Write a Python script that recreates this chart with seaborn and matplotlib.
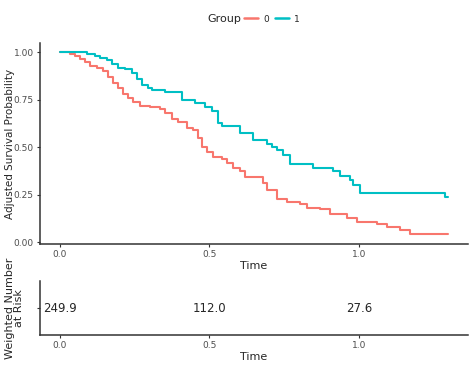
import pandas as pd
import seaborn as sns
from matplotlib import pyplot as plt

# Adjusted survival curves (step functions)
time_g0 = [0.0, 0.033, 0.050, 0.067, 0.084, 0.100, 0.124, 0.144, 0.161, 0.177,
           0.194, 0.211, 0.227, 0.244, 0.268, 0.301, 0.334, 0.351, 0.375, 0.395,
           0.425, 0.445, 0.462, 0.475, 0.492, 0.512, 0.542, 0.559, 0.579, 0.602,
           0.619, 0.679, 0.692, 0.726, 0.759, 0.803, 0.826, 0.870, 0.903, 0.960,
           0.993, 1.060, 1.094, 1.137, 1.171, 1.298]
surv_g0 = [1.0, 0.99, 0.98, 0.965, 0.95, 0.93, 0.92, 0.90, 0.87, 0.84,
           0.81, 0.78, 0.76, 0.74, 0.72, 0.71, 0.70, 0.68, 0.65, 0.635,
           0.60, 0.59, 0.55, 0.50, 0.477, 0.45, 0.44, 0.416, 0.39, 0.375,
           0.345, 0.31, 0.275, 0.23, 0.21, 0.20, 0.18, 0.175, 0.15, 0.13,
           0.105, 0.095, 0.079, 0.065, 0.042, 0.042]

time_g1 = [0.0, 0.090, 0.117, 0.134, 0.157, 0.174, 0.194, 0.217, 0.241, 0.258,
           0.274, 0.294, 0.308, 0.351, 0.408, 0.452, 0.485, 0.508, 0.528, 0.542,
           0.602, 0.645, 0.692, 0.709, 0.726, 0.746, 0.769, 0.846, 0.913, 0.936,
           0.970, 0.980, 1.003, 1.288, 1.298]
surv_g1 = [1.0, 0.99, 0.98, 0.97, 0.96, 0.94, 0.92, 0.91, 0.89, 0.86,
           0.83, 0.81, 0.80, 0.79, 0.75, 0.735, 0.71, 0.69, 0.63, 0.61,
           0.575, 0.54, 0.52, 0.50, 0.486, 0.46, 0.41, 0.39, 0.375, 0.35,
           0.33, 0.30, 0.258, 0.237, 0.237]

# Risk table
risk_times = [0.0, 0.5, 1.0]
risk_values = [249.9, 112.0, 27.6]

colors = {"0": "#F8766D", "1": "#00BFC4"}
tick_color = "#4D4D4D"

df = pd.concat([
    pd.DataFrame({"Time": time_g0, "Survival": surv_g0, "Group": "0"}),
    pd.DataFrame({"Time": time_g1, "Survival": surv_g1, "Group": "1"}),
])

sns.set_style("white")
plt.rcParams['font.family'] = ['DejaVu Sans']

fig = plt.figure(figsize=(4.74, 3.67), dpi=100)
W, H = 474, 367
ax = fig.add_axes([40 / W, 1 - 244 / H, 428 / W, 201 / H])
ax2 = fig.add_axes([40 / W, 1 - 335 / H, 428 / W, 54 / H])

sns.lineplot(data=df, x="Time", y="Survival", hue="Group", palette=colors,
             drawstyle="steps-post", linewidth=1.5, ax=ax, legend=False,
             estimator=None, sort=False)

ax.set_xlim(-0.067, 1.365)
ax.set_ylim(-0.009, 1.049)
ax.set_xticks([0.0, 0.5, 1.0])
ax.set_xticklabels(["0.0", "0.5", "1.0"])
ax.set_yticks([0.0, 0.25, 0.5, 0.75, 1.0])
ax.set_yticklabels(["0.00", "0.25", "0.50", "0.75", "1.00"])
ax.set_xlabel("Time", fontsize=8, labelpad=1)
ax.set_ylabel("Adjusted Survival Probability", fontsize=7.5)
ax.yaxis.set_label_coords(-0.058, 0.5)

for a in (ax, ax2):
    sns.despine(ax=a)
    a.spines["left"].set_color("#333333")
    a.spines["bottom"].set_color("#333333")
    a.spines["left"].set_linewidth(1.1)
    a.spines["bottom"].set_linewidth(1.1)
    a.tick_params(axis="both", which="both", labelsize=6.5, labelcolor=tick_color,
                  color="#333333", length=2.5, width=0.8, pad=2,
                  bottom=True, left=True)

# risk table
ax2.set_xlim(-0.067, 1.365)
ax2.set_ylim(0, 1)
for t, v in zip(risk_times, risk_values):
    ax2.text(t, 0.5, f"{v:.1f}", ha="center", va="center", fontsize=8.5)
ax2.set_xticks([0.0, 0.5, 1.0])
ax2.set_xticklabels(["0.0", "0.5", "1.0"])
ax2.set_yticks([0.5])
ax2.set_yticklabels([""])
ax2.set_xlabel("Time", fontsize=8, labelpad=1)
ax2.set_ylabel("Weighted Number\nat Risk", fontsize=8, linespacing=0.9)
ax2.yaxis.set_label_coords(-0.037, 0.5)

# legend across the top
fig.text(207 / W, 1 - 19 / H, "Group", fontsize=8, va="center", ha="left")
handles = [plt.Line2D([], [], color=colors[g], lw=1.8) for g in ["0", "1"]]
fig.legend(handles, ["0", "1"], loc="center left", bbox_to_anchor=(244 / W, 1 - 19 / H),
           ncol=2, frameon=False, fontsize=6.5, handlelength=1.5, handletextpad=0.6,
           columnspacing=0.7, borderaxespad=0, borderpad=0)

fig.savefig("out.png", dpi=100)
